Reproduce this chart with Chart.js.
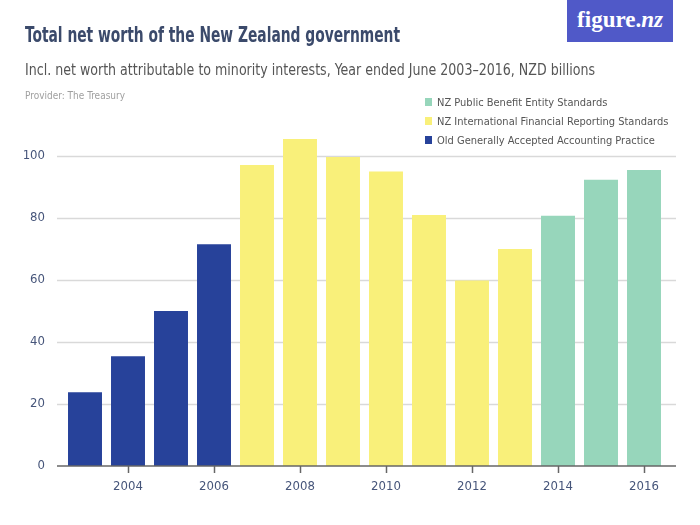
<!DOCTYPE html>
<html>
<head>
<meta charset="utf-8">
<script src="https://cdn.jsdelivr.net/npm/chart.js@4"></script>
<style>
  body { margin: 0; background: #fff; font-family: "Liberation Sans Narrow", "DejaVu Sans Condensed", sans-serif; }
  #wrap { position: relative; width: 700px; height: 525px; overflow: hidden; }
  #chart { position: absolute; left: 0; top: 0; }
  .fit { position: absolute; left: 25px; white-space: nowrap; transform-origin: 0 0; }
  .title { top: 23px; font-size: 21px; font-weight: bold; color: #3b4a6b; }
  .subtitle { top: 60px; font-size: 16px; color: #555; }
  .provider { top: 89px; font-size: 11px; color: #a0a0a0; }
  .logo { position: absolute; left: 567px; top: 0; width: 106px; height: 42px; background: #5059c8; color: #fff;
          font-family: "Liberation Serif", "DejaVu Serif", serif; font-weight: bold; font-size: 23px; text-align: center; line-height: 40px; }
  .legend { position: absolute; left: 425px; top: 96px; font-size: 11px; color: #555; }
  .legend div { height: 19px; white-space: nowrap; }
  .legend span { display: inline-block; width: 7px; height: 8px; margin-right: 5px; vertical-align: 0px; }
</style>
</head>
<body>
<div id="wrap">
  <canvas id="chart" width="700" height="525"></canvas>
  <div class="fit title" data-w="375">Total net worth of the New Zealand government</div>
  <div class="fit subtitle" data-w="570">Incl. net worth attributable to minority interests, Year ended June 2003–2016, NZD billions</div>
  <div class="fit provider" data-w="100">Provider: The Treasury</div>
  <div class="logo">figure.<i>nz</i></div>
  <div class="legend">
    <div><span style="background:#97d6bb"></span>NZ Public Benefit Entity Standards</div>
    <div><span style="background:#f9f07a"></span>NZ International Financial Reporting Standards</div>
    <div><span style="background:#27429a"></span>Old Generally Accepted Accounting Practice</div>
  </div>
</div>
<script>
var years = ['2003', '2004', '2005', '2006', '2007', '2008', '2009', '2010', '2011', '2012', '2013', '2014', '2015', '2016'];
var oldGaap = [23.8, 35.4, 50, 71.5, null, null, null, null, null, null, null, null, null, null];
var nzIfrs = [null, null, null, null, 97.1, 105.5, 99.7, 95, 81, 59.8, 70, null, null, null];
var pbe = [null, null, null, null, null, null, null, null, null, null, null, 80.7, 92.3, 95.5];
var gridValues = [20, 40, 60, 80, 100];

// squeeze the header texts to the reference widths
document.querySelectorAll('.fit').forEach(function(el) {
    var w = el.getBoundingClientRect().width;
    el.style.transform = 'scaleX(' + (Number(el.dataset.w) / w) + ')';
});

// gridlines and baseline run a little past the bars on both sides
var frame = {
    id: 'frame',
    beforeDatasetsDraw: function(chart) {
        var c = chart.ctx, y = chart.scales.y;
        c.save();
        c.strokeStyle = '#d9d9d9';
        c.lineWidth = 1.5;
        gridValues.forEach(function(v) {
            var py = Math.round(y.getPixelForValue(v)) + 0.5;
            c.beginPath(); c.moveTo(57, py); c.lineTo(676, py); c.stroke();
        });
        c.restore();
    },
    afterDatasetsDraw: function(chart) {
        var c = chart.ctx, py = chart.scales.y.getPixelForValue(0);
        c.save();
        c.strokeStyle = '#666';
        c.lineWidth = 1.5;
        c.beginPath(); c.moveTo(57, py); c.lineTo(676, py); c.stroke();
        c.restore();
    }
};

var tickFont = { family: '"Liberation Sans Narrow", "DejaVu Sans Condensed", sans-serif', size: 13 };

var ctx = document.getElementById('chart').getContext('2d');
var chart = new Chart(ctx, {
    type: 'bar',
    data: {
    labels: years,
    datasets: [
        { label: 'Old Generally Accepted Accounting Practice', data: oldGaap, backgroundColor: '#27429a' },
        { label: 'NZ International Financial Reporting Standards', data: nzIfrs, backgroundColor: '#f9f07a' },
        { label: 'NZ Public Benefit Entity Standards', data: pbe, backgroundColor: '#97d6bb' }
    ]
    },
    options: {
    responsive: false,
    animation: false,
    layout: { padding: { left: 0, top: 125, right: 34.5, bottom: 0 } },
    datasets: { bar: { barPercentage: 0.79, categoryPercentage: 1 } },
    scales: {
        x: {
        stacked: true,
        grid: {
            offset: false,
            drawOnChartArea: false,
            tickLength: 7,
            tickWidth: 1.5,
            tickColor: function(c) { return Number(years[c.index]) % 2 === 0 ? '#666' : 'rgba(0,0,0,0)'; }
        },
        border: { display: false },
        ticks: {
            autoSkip: false,
            maxRotation: 0,
            padding: 6,
            color: '#46557a',
            font: tickFont,
            callback: function(v, i) { return Number(years[i]) % 2 === 0 ? years[i] : ''; }
        },
        afterFit: function(s) { s.height = 59; }
        },
        y: {
        min: 0,
        max: 110,
        grid: { display: false },
        border: { display: false },
        ticks: {
            stepSize: 20,
            padding: 10.5,
            color: '#46557a',
            font: tickFont,
            callback: function(v) { return v % 20 === 0 ? v : ''; }
        },
        afterFit: function(s) { s.width = 63.5; }
        }
    },
    plugins: {
        legend: { display: false },
        tooltip: { enabled: false }
    }
    },
    plugins: [frame]
});
</script>
</body>
</html>
